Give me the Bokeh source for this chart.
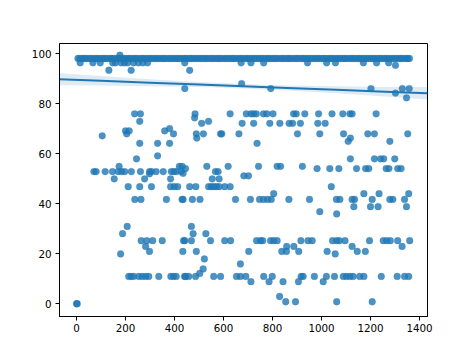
from bokeh.plotting import figure
from bokeh.models import Range1d, FixedTicker, ColumnDataSource
from bokeh.embed import file_html
from bokeh.resources import INLINE

C0 = "#1f77b4"

# Dense band of observations at ~98
band_level = 98.0
band_x = [6, 14, 25, 33, 41, 52, 60, 71, 80, 88, 99, 108, 117, 126, 137, 145, 154, 166, 175, 184,
          193, 204, 212, 221, 232, 241, 250, 262, 270, 279, 290, 299, 308, 318, 327, 336, 347, 355,
          364, 375, 384, 393, 404, 412, 421, 432, 441, 450, 461, 469, 478, 489, 498, 507, 518, 526,
          535, 546, 555, 564, 575, 583, 592, 603, 612, 621, 632, 640, 649, 660, 669, 678, 689, 697,
          706, 717, 726, 735, 746, 754, 763, 774, 783, 792, 803, 811, 820, 831, 840, 849, 860, 868,
          877, 888, 897, 906, 917, 925, 934, 945, 954, 963, 974, 982, 991, 1002, 1011, 1020, 1031,
          1039, 1048, 1059, 1068, 1077, 1088, 1096, 1105, 1116, 1125, 1134, 1145, 1153, 1162, 1173,
          1182, 1191, 1202, 1210, 1219, 1230, 1239, 1248, 1259, 1267, 1276, 1287, 1296, 1305, 1316,
          1324, 1333, 1344, 1352, 1359]

# Scattered observations, grouped by y level
levels = [99.3, 96.3, 95.3, 93.3, 88.0, 86.0, 84.2, 82.3, 75.9, 74.3, 72.9, 72.1, 70.0, 69.1,
          67.9, 67.1, 66.2, 64.9, 64.1, 59.1, 57.9, 54.9, 54.0, 52.8, 52.1, 51.9, 51.1, 49.9,
          46.8, 44.0, 41.7, 38.8, 36.8, 35.9, 30.9, 28.0, 25.2, 22.9, 20.9, 19.9, 17.9, 15.9,
          13.9, 12.1, 10.9, 8.8, 2.9, 0.8, 0.0]
level_x = [
    [177],
    [15, 67, 97, 148, 159, 182, 196, 209, 233, 253, 271, 290, 442, 672, 712, 764, 943, 1021, 1057,
     1171, 1225, 1274],
    [1302],
    [132, 223, 462],
    [674],
    [442, 793, 1202, 1330, 1358],
    [1302],
    [1347],
    [237, 261, 484, 627, 693, 712, 723, 734, 763, 777, 802, 886, 897, 932, 988, 1043, 1087, 1116,
     1125, 1223],
    [482],
    [258, 539],
    [511, 676, 723, 789, 830, 868, 882, 914, 985, 1015],
    [380],
    [200, 215, 360],
    [205, 396, 489, 518, 588, 593, 663, 902, 993, 1090, 1189, 1216, 1352],
    [105],
    [491, 1118],
    [1109, 1279],
    [258, 331, 380, 737],
    [331],
    [245, 1118, 1216, 1241, 1254, 1299],
    [174, 420, 431, 532, 619, 743, 819, 833, 922],
    [445, 982, 1034, 1071, 1143, 1180, 1193, 1264, 1275, 1311, 1325],
    [71, 80, 117, 147, 170, 184, 197, 224, 261, 298, 306, 325, 354, 387, 397, 407, 427, 567, 578],
    [435],
    [298],
    [683, 702],
    [154, 278, 384, 554, 582],
    [211, 258, 306, 384, 399, 413, 462, 487, 539, 550, 560, 571, 582, 605, 627, 1040],
    [805, 1173, 1235, 1356],
    [238, 263, 367, 431, 435, 473, 504, 649, 710, 747, 763, 780, 795, 867, 951, 1061, 1075, 1125,
     1135, 1207, 1279, 1291, 1339],
    [1132, 1200, 1231, 1347],
    [993],
    [1062],
    [207, 469],
    [188, 476, 528],
    [264, 287, 311, 350, 437, 442, 469, 547, 605, 629, 735, 751, 760, 792, 805, 819, 916, 945, 962,
     1045, 1062, 1073, 1096, 1196, 1252, 1266, 1281, 1311, 1360],
    [282, 858, 887, 1125, 1329],
    [298, 434, 489, 703, 838, 857, 907, 1023, 1146, 1179],
    [180, 1056],
    [522],
    [669],
    [517],
    [503],
    [213, 223, 233, 254, 268, 282, 295, 336, 385, 396, 407, 441, 445, 458, 486, 560, 588, 653, 669,
     691, 764, 799, 917, 925, 971, 1020, 1053, 1089, 1102, 1116, 1129, 1156, 1173, 1244, 1309,
     1339, 1356],
    [712, 786, 843, 906, 1007],
    [829],
    [854, 894, 1062, 1207],
    [0, 3],
]

# Regression fit
fit_intercept = 89.44
fit_slope = -0.003728
ci_x = [-69.4, 100, 300, 500, 680, 860, 1060, 1260, 1432.7]
ci_half = [2.4, 1.9, 1.4, 1.0, 0.9, 1.0, 1.4, 1.9, 2.5]

x_ticks = [0, 200, 400, 600, 800, 1000, 1200, 1400]
y_ticks = [0, 20, 40, 60, 80, 100]

xs = list(band_x)
ys = [band_level] * len(band_x)
for lv, xl in zip(levels, level_x):
    xs.extend(xl)
    ys.extend([lv] * len(xl))

p = figure(width=474, height=355, output_backend="svg", toolbar_location=None,
           x_range=Range1d(-69.4, 1432.7), y_range=Range1d(-5.1, 104.0),
           min_border_left=59, min_border_right=47, min_border_top=43, min_border_bottom=39)
p.background_fill_color = "white"
p.border_fill_color = "white"
p.outline_line_color = "black"
p.outline_line_width = 1
p.grid.visible = False

p.scatter(x="x", y="y", source=ColumnDataSource(dict(x=xs, y=ys)), size=6.8,
          fill_color=C0, fill_alpha=0.8, line_color=C0, line_alpha=0.8, line_width=0.3)

line_y = [fit_intercept + fit_slope * x for x in ci_x]
lo = [m - h for m, h in zip(line_y, ci_half)]
hi = [m + h for m, h in zip(line_y, ci_half)]
p.varea(x=ci_x, y1=lo, y2=hi, fill_color=C0, fill_alpha=0.15)
p.line(x=ci_x, y=line_y, line_color=C0, line_width=2)

for ax in (p.xaxis, p.yaxis):
    ax.major_label_text_font = "DejaVu Sans"
    ax.major_label_text_font_size = "10.3px"
    ax.major_label_text_color = "black"
    ax.axis_line_color = "black"
    ax.axis_line_width = 1
    ax.major_tick_line_color = "black"
    ax.major_tick_line_width = 1
    ax.major_tick_out = 4
    ax.major_tick_in = 0
    ax.minor_tick_line_color = None
p.xaxis.ticker = FixedTicker(ticks=x_ticks)
p.yaxis.ticker = FixedTicker(ticks=y_ticks)
p.xaxis.major_label_standoff = 3
p.yaxis.major_label_standoff = 4

open("out.html", "w").write(file_html(p, INLINE))
